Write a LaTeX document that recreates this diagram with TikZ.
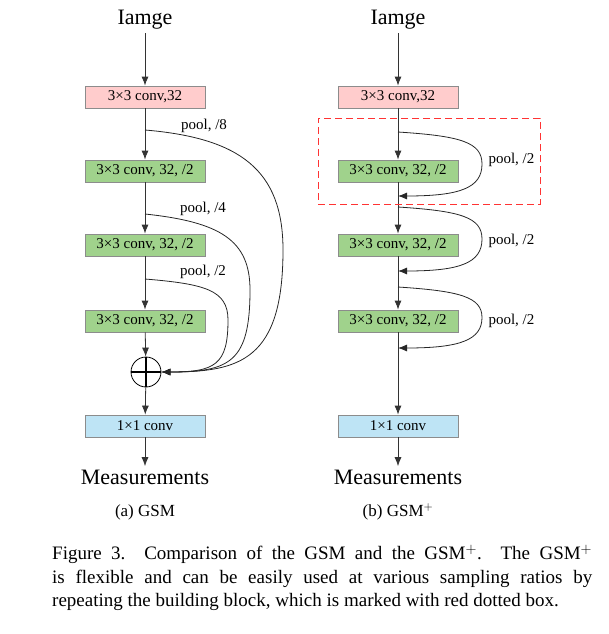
\documentclass[tikz,border=0pt]{standalone}
\usepackage{fontspec}
\setmainfont{Liberation Serif}
\usetikzlibrary{positioning}
\usetikzlibrary{arrows.meta}
\usetikzlibrary{shapes.misc}
\definecolor{convpink}{RGB}{255,204,204}
\definecolor{convgreen}{RGB}{160,210,140}
\definecolor{convblue}{RGB}{190,228,245}
\definecolor{framegray}{RGB}{140,140,140}

\begin{document}
\begin{tikzpicture}[x=1pt,y=-1pt,
		block/.style={rectangle, draw=framegray, thick, minimum width=120pt, minimum height=22pt, inner sep=0pt, font=\fontsize{15}{16}\selectfont},
		first/.style={block, fill=convpink},
		layer/.style={block, fill=convgreen},
		last/.style={block, fill=convblue},
		title/.style={font=\fontsize{22}{24}\selectfont},
		lbl/.style={font=\fontsize{15}{16}\selectfont},
		arrow/.style={-{Latex[length=9pt,width=7pt]}, thick, draw=black!80},
		pool/.style={-{Latex[length=9pt,width=7pt]}, thick, draw=black!85}
	]
		\useasboundingbox (0,0) rectangle (608,634);
		% (a) GSM
		\node[title] (imgA) at (145,20) {Iamge};
		\node[first] (a0) at (145,97) {3×3 conv,32};
		\node[layer] (a1) at (145,171) {3×3 conv, 32, /2};
		\node[layer] (a2) at (145,245) {3×3 conv, 32, /2};
		\node[layer] (a3) at (145,321) {3×3 conv, 32, /2};
		\node[circle, draw=black, thick, minimum size=30pt, inner sep=0pt] (sum) at (146,372) {};
		\draw[very thick] (sum.north) -- (sum.south) (sum.west) -- (sum.east);
		\node[last] (a4) at (145,426) {1×1 conv};
		\node[title] (outA) at (145,477) {Measurements};
		\node[lbl, font=\fontsize{17}{18}\selectfont] (capA) at (145,512) {(a) GSM};

		\draw[arrow] (imgA) -- (a0);
		\draw[arrow] (a0) -- (a1);
		\draw[arrow] (a1) -- (a2);
		\draw[arrow] (a2) -- (a3);
		\draw[arrow] (a3) -- (sum);
		\draw[arrow] (sum) -- (a4);
		\draw[arrow] (a4) -- (outA);

		\coordinate (s8) at (145,130);
		\coordinate (s4) at (145,214);
		\coordinate (s2) at (145,279);
		\draw[pool] (s8) .. controls (240,138) and (283,170) .. (283,250) .. controls (283,360) and (240,372) .. (sum.east);
		\draw[pool] (s4) .. controls (220,222) and (250,240) .. (250,290) .. controls (250,362) and (230,372) .. (sum.east);
		\draw[pool] (s2) .. controls (205,284) and (228,290) .. (228,320) .. controls (228,365) and (215,372) .. (sum.east);
		\node[lbl] (p8) at (204,126) {pool, /8};
		\node[lbl] (p4) at (203,209) {pool, /4};
		\node[lbl] (p2) at (203,272) {pool, /2};

		% (b) GSM+
		\node[title] (imgB) at (398,20) {Iamge};
		\node[first] (b0) at (398,97) {3×3 conv,32};
		\node[layer] (b1) at (398,171) {3×3 conv, 32, /2};
		\node[layer] (b2) at (398,245) {3×3 conv, 32, /2};
		\node[layer] (b3) at (398,321) {3×3 conv, 32, /2};
		\node[last] (b4) at (398,426) {1×1 conv};
		\node[title] (outB) at (398,477) {Measurements};
		\node[lbl, font=\fontsize{17}{18}\selectfont] (capB) at (398,512) {(b) GSM$^{+}$};

		\draw[arrow] (imgB) -- (b0);
		\draw[arrow] (b0) -- (b1);
		\draw[arrow] (b1) -- (b2);
		\draw[arrow] (b2) -- (b3);
		\draw[arrow] (b3) -- (b4);
		\draw[arrow] (b4) -- (outB);

		\foreach \i/\ya/\yb/\yl in {1/132/196/160, 2/207/271/241, 3/287/348/321} {
			\coordinate (u\i) at (398,\ya);
			\coordinate (v\i) at (398,\yb);
			\draw[pool] (u\i) .. controls (460,\ya+4) and (482,\ya+10) .. (482,{(\ya+\yb)/2}) .. controls (482,\yb-8) and (460,\yb) .. (v\i);
			\node[lbl, anchor=west] (q\i) at (485,\yl) {pool, /2};
		}
		\node[draw=red!80, dashed, thick, dash pattern=on 7pt off 4pt, minimum width=222pt, minimum height=86pt] (unit) at (429,161) {};

		% caption
		\node[anchor=north west, text width=540pt, align=justify, inner sep=0pt, font=\fontsize{19}{23.5}\selectfont] (cap) at (52,545)
			{Figure 3.\ \ Comparison of the GSM and the GSM$^{+}$.\ \ The GSM$^{+}$\linebreak is flexible and can be easily used at various sampling ratios by\linebreak repeating the building block, which is marked with red dotted box.};
	\end{tikzpicture}
\end{document}
